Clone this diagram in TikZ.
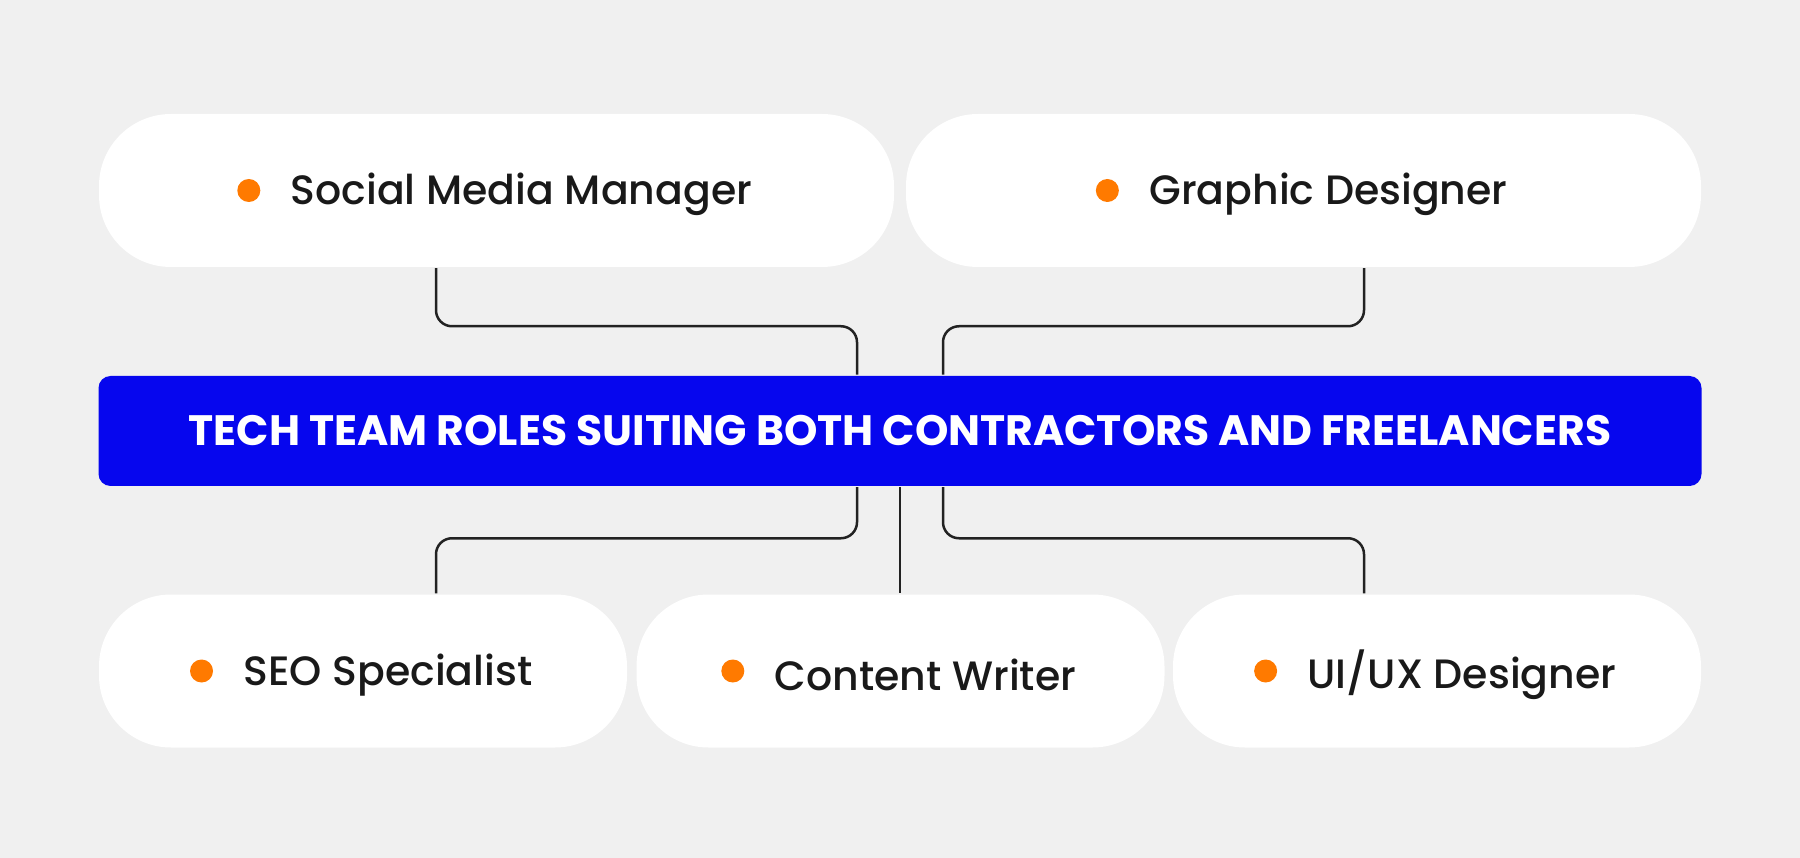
\documentclass[tikz,border=0pt]{standalone}
\usepackage{fontspec}
\setmainfont{Poppins}
\newfontfamily\rolefont{Poppins Medium}
\usetikzlibrary{positioning}
\definecolor{bgc}{RGB}{240,240,240}
\definecolor{hubblue}{RGB}{6,6,238}
\definecolor{dotc}{RGB}{255,122,0}
\definecolor{linec}{RGB}{34,34,34}
\tikzset{every picture/.style={line width=2.5pt}}

\begin{document}
\begin{tikzpicture}[x=1pt,y=-1pt,node distance=28pt,
        pill/.style={fill=white, rounded corners=72pt, minimum height=153pt, inner sep=0pt},
        role/.style={font=\rolefont\fontsize{41}{48}\selectfont, text=black!90, inner sep=0pt, xshift=25pt, yshift=-4pt},
        dot/.style={circle, fill=dotc, minimum size=23pt, inner sep=0pt, yshift=4pt},
        link/.style={draw=linec, rounded corners=16pt},
        hub/.style={fill=hubblue, rounded corners=12pt, minimum width=1603pt, minimum height=110pt,
            text=white, font=\fontsize{42.5}{48}\selectfont\bfseries}]
        \fill[bgc] (0,0) rectangle (1800,858);

        \node[pill, minimum width=795pt] (sm) at (496.5,190.5) {};
        \node[pill, minimum width=795pt] (gd) at (1303.5,190.5) {};
        \node[hub] (hub) at (900,431) {TECH TEAM ROLES SUITING BOTH CONTRACTORS AND FREELANCERS};
        \node[pill, minimum width=528pt] (seo) at (363,671) {};
        \node[pill, minimum width=528pt] (cw) at (900.5,671) {};
        \node[pill, minimum width=528pt] (ux) at (1437,671) {};

        \node[role] (smt) at (sm) {Social Media Manager};
        \node[dot, left=of smt] (smd) {};
        \node[role] (gdt) at (gd) {Graphic Designer};
        \node[dot, left=of gdt] (gdd) {};
        \node[role] (seot) at (seo) {SEO Specialist};
        \node[dot, left=of seot] (seod) {};
        \node[role] (cwt) at (cw) {Content Writer};
        \node[dot, left=of cwt] (cwd) {};
        \node[role] (uxt) at (ux) {UI/UX Designer};
        \node[dot, left=of uxt] (uxd) {};

        \draw[link] ([xshift=-60.5pt]sm.south) -- ++(0,58) -| ([xshift=-43pt]hub.north);
        \draw[link] ([xshift=60.5pt]gd.south) -- ++(0,58) -| ([xshift=43pt]hub.north);
        \draw[link] ([xshift=-43pt]hub.south) -- ++(0,51) -| ([xshift=73pt]seo.north);
        \draw[link] (hub.south) -- (hub.south |- cw.north);
        \draw[link] ([xshift=43pt]hub.south) -- ++(0,51) -| ([xshift=-73pt]ux.north);
    \end{tikzpicture}
\end{document}
